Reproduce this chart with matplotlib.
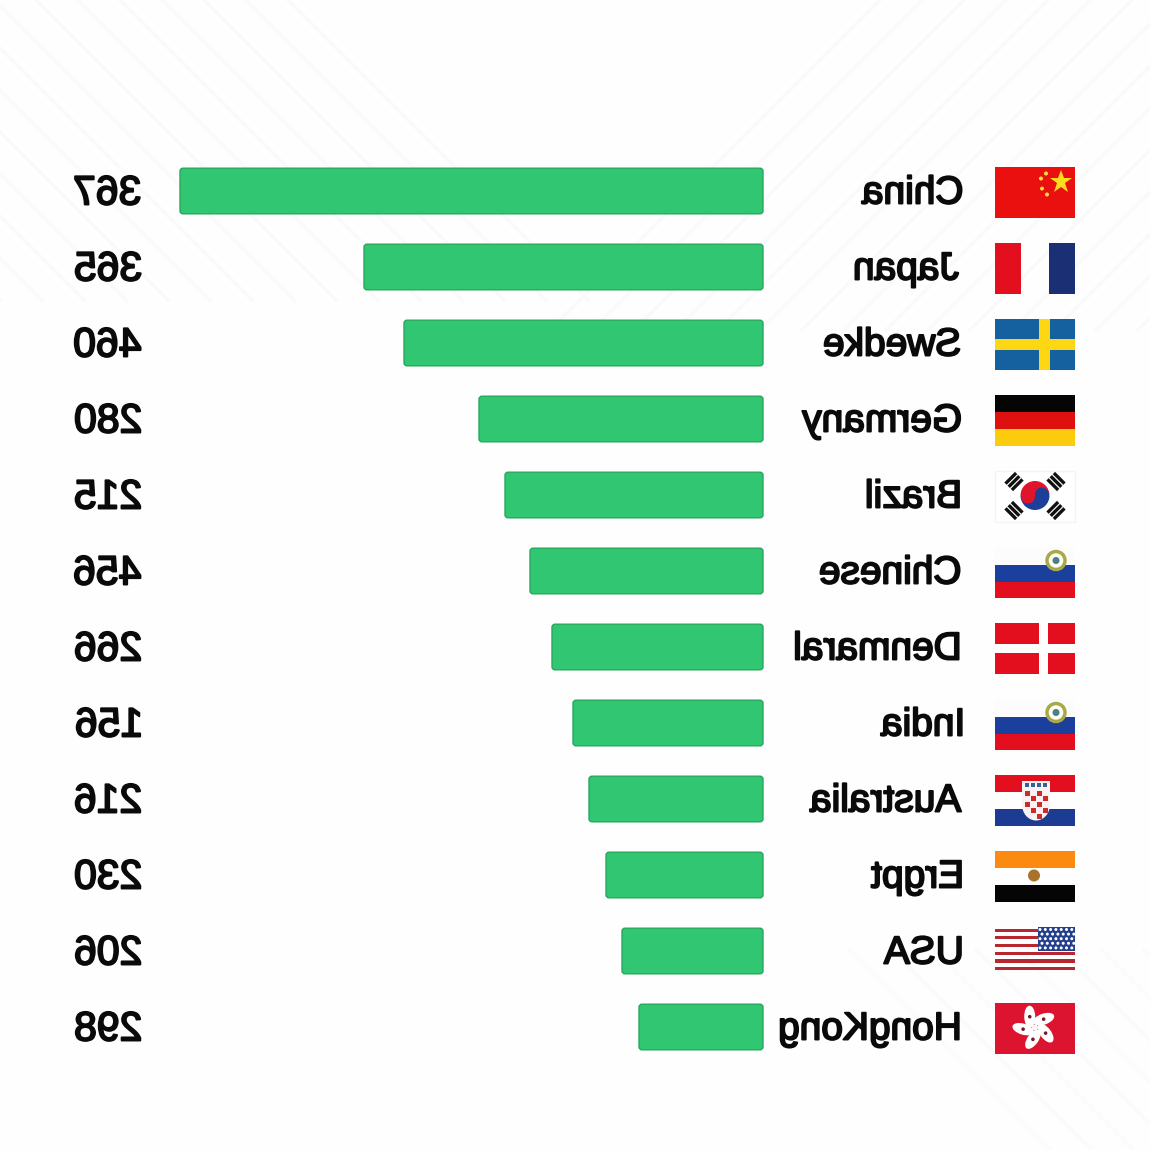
import numpy as np
import matplotlib
matplotlib.use('Agg')
import matplotlib.pyplot as plt
import matplotlib.patheffects as pe
from matplotlib.patches import FancyBboxPatch, Rectangle, Circle, Ellipse, Wedge

plt.rcParams['font.family'] = ['Liberation Sans', 'DejaVu Sans']

countries = ['China', 'Japan', 'Swedke', 'Germany', 'Brazil', 'Chinese',
             'Denmaral', 'India', 'Australia', 'Ergpt', 'USA', 'HongKong']
value_labels = ['367', '365', '460', '280', '215', '456',
                '266', '156', '216', '230', '206', '298']
# bar lengths do not follow the printed numbers, read off in pixels
bar_lengths = [583, 399, 359, 284, 258, 233, 211, 190, 174, 157, 141, 124]

GREEN = '#30c672'
RED = '#e30f1e'
BLUE = '#1c3f94'
FW, FH = 80, 51


def mirror(img, dpi):
    # text in the reference reads right to left, flip the glyphs where they stand
    return img[:, ::-1], 0, 0


fig = plt.figure(figsize=(11.5, 11.5), dpi=100, facecolor='#fefefe')

# background streaks sit under everything
bg = fig.add_axes([0, 0, 1, 1], zorder=0)
bg.set_xlim(0, 1150)
bg.set_ylim(1150, 0)
bg.axis('off')

# bar axes, length grows to the left from the baseline
ax = fig.add_axes([0, 0, 1, 1], zorder=1)
ax.set_xlim(763, 763 - 1150)
ax.set_ylim((1150 - 191) / 76, -191 / 76)
ax.axis('off')

# pixel axes for flags and text
px = fig.add_axes([0, 0, 1, 1], zorder=2)
px.set_xlim(0, 1150)
px.set_ylim(1150, 0)
px.axis('off')

#### BACKGROUND ####
for s in range(880, 1500, 42):
    bg.plot([s, s - 330], [0, 330], color='#fafafa', lw=2.5)
for s in range(1050, 1700, 42):
    bg.plot([s, s - 200], [1150, 950], color='#fbfbfb', lw=2.5)
for s in range(-300, 330, 42):
    bg.plot([s, s + 300], [0, 300], color='#fafafa', lw=2.5)

#### BARS ####
for i, length in enumerate(bar_lengths):
    ax.add_patch(FancyBboxPatch((0, i - 0.3), length, 0.6,
                                boxstyle='round,pad=0,rounding_size=3',
                                mutation_aspect=1 / 76,
                                fc=GREEN, ec='#25a85e', lw=1))


#### FLAGS ####
class Flag:
    def __init__(self, cy):
        self.x0 = 995
        self.y0 = cy - FH / 2

    def rect(self, x, y, w, h, color, z=3):
        px.add_patch(Rectangle((self.x0 + x, self.y0 + y), w, h, fc=color, ec='none', zorder=z))

    def disc(self, x, y, r, color, ec='none', lw=0, z=4):
        px.add_patch(Circle((self.x0 + x, self.y0 + y), r, fc=color, ec=ec, lw=lw, zorder=z))

    def line(self, x, y, angle, length, lw=2.4, color='#111111'):
        dx = np.cos(np.radians(angle)) * length / 2
        dy = np.sin(np.radians(angle)) * length / 2
        px.plot([self.x0 + x - dx, self.x0 + x + dx], [self.y0 + y - dy, self.y0 + y + dy],
                color=color, lw=lw, solid_capstyle='butt', zorder=4)


def flag_china(f):
    f.rect(0, 0, FW, FH, '#ea1010')
    px.plot(f.x0 + 66, f.y0 + 15, marker='*', ms=17, color='#fbdc1e', mew=0, zorder=4)
    for x, y in [(51, 7), (46, 12), (47, 22), (52, 28)]:
        f.disc(x, y, 2, '#fbdc3e')


def flag_japan(f):
    f.rect(0, 0, 26, FH, RED)
    f.rect(54, 0, 26, FH, '#1b2f75')


def flag_sweden(f):
    f.rect(0, 0, FW, FH, '#15619f')
    f.rect(44, 0, 11, FH, '#fdd614')
    f.rect(0, 20, FW, 11, '#fdd614')


def flag_germany(f):
    f.rect(0, 0, FW, 17, '#050505')
    f.rect(0, 17, FW, 17, '#df1010')
    f.rect(0, 34, FW, 17, '#fdcb0e')


def flag_korea(f):
    px.add_patch(Rectangle((f.x0, f.y0), FW, FH, fc='#ffffff', ec='#f4f4f4', lw=1, zorder=3))
    px.add_patch(Wedge((f.x0 + 40, f.y0 + 25), 14.5, 180, 360, fc='#e0142a', ec='none', zorder=4))
    px.add_patch(Wedge((f.x0 + 40, f.y0 + 25), 14.5, 0, 180, fc='#1d3f9a', ec='none', zorder=4))
    f.disc(33, 26, 7, '#e0142a', z=5)
    f.disc(47, 24, 7, '#1d3f9a', z=5)
    for x, y, ang in [(19, 11, 135), (61, 11, 45), (19, 40, 45), (61, 40, 135)]:
        for off in (-4.5, 0, 4.5):
            ox = off * np.cos(np.radians(ang + 90))
            oy = off * np.sin(np.radians(ang + 90))
            f.line(x + ox, y + oy, ang, 15)


def flag_crest(f):
    f.rect(0, 0, FW, 17, '#fcfcfc')
    f.rect(0, 18, FW, 17, '#1b3f9c')
    f.rect(0, 35, FW, 16, RED)
    f.disc(61, 14, 9, '#fdfdf2', ec='#a9a94a', lw=2.5)
    f.disc(61, 14, 3.5, '#4b7f86')


def flag_denmark(f):
    f.rect(0, 0, FW, FH, RED)
    f.rect(44, 0, 9, FH, '#fefefe')
    f.rect(0, 21, FW, 9, '#fefefe')


def flag_croatia(f):
    f.rect(0, 0, FW, 17, RED)
    f.rect(0, 34, FW, 17, '#1c3c94')
    f.rect(27, 6, 28, 24, '#f8f2f2', z=4)
    px.add_patch(Ellipse((f.x0 + 41, f.y0 + 30), 28, 32, fc='#f8f2f2', ec='none', zorder=4))
    for x in (30, 36, 42, 48):
        f.rect(x, 8, 3.5, 4, '#3b5f92', z=5)
    for r in range(5):
        for c in range(4):
            if (r + c) % 2 == 0 and not (r == 4 and c in (0, 3)):
                f.rect(30 + c * 6, 16 + r * 5.8, 5, 5, '#cf2a2a', z=5)


def flag_egypt(f):
    f.rect(0, 0, FW, 17, '#fb8b10')
    f.rect(0, 34, FW, 17, '#050505')
    f.disc(39, 25, 6, '#a9712a')


def flag_usa(f):
    for k in range(6):
        f.rect(0, 2 + k * 7.7, FW, 3.2, '#b8262f')
    f.rect(43, 0, 37, 24, '#24408c')
    for r in range(5):
        for c in range(7):
            f.disc(45 + c * 5.3 + (r % 2) * 2, 3 + r * 4.6, 1.5, '#ffffff')


def flag_hongkong(f):
    f.rect(0, 0, FW, FH, '#dc1430')
    for k in range(5):
        a = 100 + 72 * k
        x = 40 + 12 * np.cos(np.radians(a))
        y = 25 + 12 * np.sin(np.radians(a))
        px.add_patch(Ellipse((f.x0 + x, f.y0 + y), 22, 11, angle=a + 25,
                             fc='#ffffff', ec='none', zorder=4))
        f.disc(x, y, 1.8, '#7a1a20')
    f.disc(40, 25, 3, '#ffffff')


flag_funcs = [flag_china, flag_japan, flag_sweden, flag_germany, flag_korea, flag_crest,
              flag_denmark, flag_crest, flag_croatia, flag_egypt, flag_usa, flag_hongkong]

#### TEXT ####
stroke = [pe.withStroke(linewidth=1.4, foreground='#0a0a0a')]
for i, name in enumerate(countries):
    cy = 191 + 76 * i
    flag_funcs[i](Flag(cy + 1))
    t = px.text(961, cy - 1.5, name, ha='right', va='center_baseline', fontsize=28,
                color='#0a0a0a', path_effects=stroke, zorder=5)
    t.set_agg_filter(mirror)
    t = px.text(142, cy - 1.5, value_labels[i], ha='right', va='center_baseline', fontsize=29.5,
                color='#0a0a0a', path_effects=stroke, zorder=5)
    t.set_agg_filter(mirror)

fig.savefig('out.png', dpi=100, facecolor=fig.get_facecolor())
